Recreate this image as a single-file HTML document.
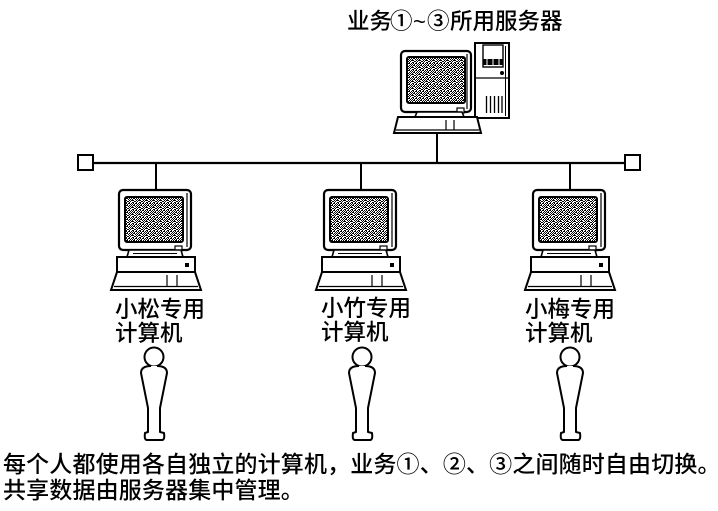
<!DOCTYPE html>
<html><head><meta charset="utf-8"><style>
html,body{margin:0;padding:0;background:#fff;}
body{width:718px;height:511px;overflow:hidden;}
svg{display:block;}
text{font-family:"Liberation Sans","Noto Sans CJK SC","WenQuanYi Zen Hei",sans-serif;fill:#000;font-weight:500;}
</style></head><body>
<svg width="718" height="511" viewBox="0 0 718 511" xmlns="http://www.w3.org/2000/svg">
<defs>
<pattern id="n" width="7" height="7" patternUnits="userSpaceOnUse">
<rect width="7" height="7" fill="#fff"/>
<path fill="#000" d="M0 0h1v1H0zM2 0h2v1H2zM5 0h1v1H5zM1 1h1v1H1zM4 1h1v1H4zM6 1h1v1H6zM0 2h2v1H0zM3 2h1v1H3zM5 2h1v1H5zM2 3h1v1H2zM4 3h1v1H4zM6 3h1v1H6zM0 4h1v1H0zM3 4h1v1H3zM5 4h2v1H5zM1 5h2v1H1zM4 5h1v1H4zM0 6h1v1H0zM3 6h1v1H3zM6 6h1v1H6z"/>
</pattern>
<g id="pc" stroke="#000" fill="#fff">
<path d="M37 163 V190" stroke-width="2" fill="none"/>
<rect x="0" y="190" width="72" height="60" rx="4" stroke-width="2.2"/>
<path d="M68 193 V247" stroke-width="1.2" fill="none"/>
<rect x="6" y="197" width="58" height="45" rx="2" fill="url(#n)" stroke-width="2"/>
<rect x="56" y="246" width="7" height="5" stroke-width="1.2"/>
<path d="M10 250 L8 257 H64 L62 250 Z" stroke-width="1.6"/>
<path d="M14 253.5 H58" stroke-width="1" fill="none"/>
<rect x="-2" y="257" width="78" height="15" stroke-width="2"/>
<rect x="66" y="263" width="4" height="4" fill="#000" stroke="none"/>
<path d="M-2 272 H76 L82 290 H-8 Z" stroke-width="2"/>
<path d="M-5 286.5 H79 M48 275 V287 M58 275 V287" stroke-width="1.2" fill="none"/>
</g>
<path id="man" d="M-3 366 Q-13 366 -13 373 L-6 408 L-6 432 L-9 433 Q-10 440 -7 440 L8 440 Q11 440 10 433 L6 432 L6 408 L13 373 Q13 366 3 366" fill="#fff" stroke="#000" stroke-width="2" stroke-linejoin="round"/>
</defs>

<!-- top label -->
<text x="347" y="29" font-size="22.5">业务</text>
<text x="390" y="29" font-size="22.5">①</text>
<text x="413" y="29" font-size="22" font-family="Liberation Sans">~</text>
<text x="427" y="29" font-size="22.5">③</text>
<text x="450" y="29" font-size="22.5">所用服务器</text>

<!-- server -->
<g stroke="#000" fill="#fff">
<rect x="475" y="43" width="34" height="75" stroke-width="2"/>
<path d="M505.5 46 V116" stroke-width="1" fill="none"/>
<rect x="483" y="45" width="20" height="22" stroke-width="1.4"/>
<rect x="483" y="59" width="20" height="6" fill="#000" stroke="none"/>
<path d="M487 59 V65 M493 59 V65 M499 59 V65" stroke="#fff" stroke-width="1"/>
<path d="M475 78 H509" stroke-width="1.2" fill="none"/>
<circle cx="502" cy="73" r="2" fill="#000" stroke="none"/>
<path d="M486.5 96 V113 M490.5 96 V113 M494.5 96 V113 M498.5 96 V113 M502 96 V113" stroke-width="1.3" fill="none"/>
<rect x="401" y="51" width="70" height="61" rx="4" stroke-width="2.2"/>
<path d="M467 54 V109" stroke-width="1.2" fill="none"/>
<rect x="407" y="57" width="58" height="46" rx="2" fill="url(#n)" stroke-width="2"/>
<rect x="457" y="108" width="7" height="5" stroke-width="1.2"/>
<path d="M417 112 L415 117 H464 L462 112 Z" stroke-width="1.6"/>
<path d="M398 117 H477 L481 133 H394 Z" stroke-width="2"/>
<path d="M396 130 H479 M446 120 V130 M454 120 V130" stroke-width="1.2" fill="none"/>
<path d="M437 133 V163" stroke-width="2" fill="none"/>
</g>

<!-- bus -->
<path d="M93 163 H625" stroke="#000" stroke-width="2.2"/>
<rect x="78" y="155" width="15" height="15" fill="#fff" stroke="#000" stroke-width="2"/>
<rect x="625" y="155" width="15" height="15" fill="#fff" stroke="#000" stroke-width="2"/>

<use href="#pc" x="119"/>
<use href="#pc" x="324"/>
<use href="#pc" x="533"/>

<!-- labels -->
<text x="115" y="317" font-size="22.5">小松专用</text>
<text x="115" y="341" font-size="22.5">计算机</text>
<text x="321" y="316" font-size="22.5">小竹专用</text>
<text x="321" y="340" font-size="22.5">计算机</text>
<text x="525" y="317" font-size="22.5">小梅专用</text>
<text x="525" y="341" font-size="22.5">计算机</text>

<!-- persons -->
<g>
<circle cx="154" cy="357" r="9.5" fill="#fff" stroke="#000" stroke-width="2"/>
<use href="#man" x="154"/>
<circle cx="362" cy="357" r="9.5" fill="#fff" stroke="#000" stroke-width="2"/>
<use href="#man" x="362"/>
<circle cx="570" cy="357" r="9.5" fill="#fff" stroke="#000" stroke-width="2"/>
<use href="#man" x="570"/>
</g>

<!-- bottom text -->
<text x="3" y="472" font-size="23" letter-spacing="0.15">每个人都使用各自独立的计算机，业务①、②、③之间随时自由切换。</text>
<text x="3" y="498" font-size="23" letter-spacing="0.15">共享数据由服务器集中管理。</text>
</svg>
</body></html>
